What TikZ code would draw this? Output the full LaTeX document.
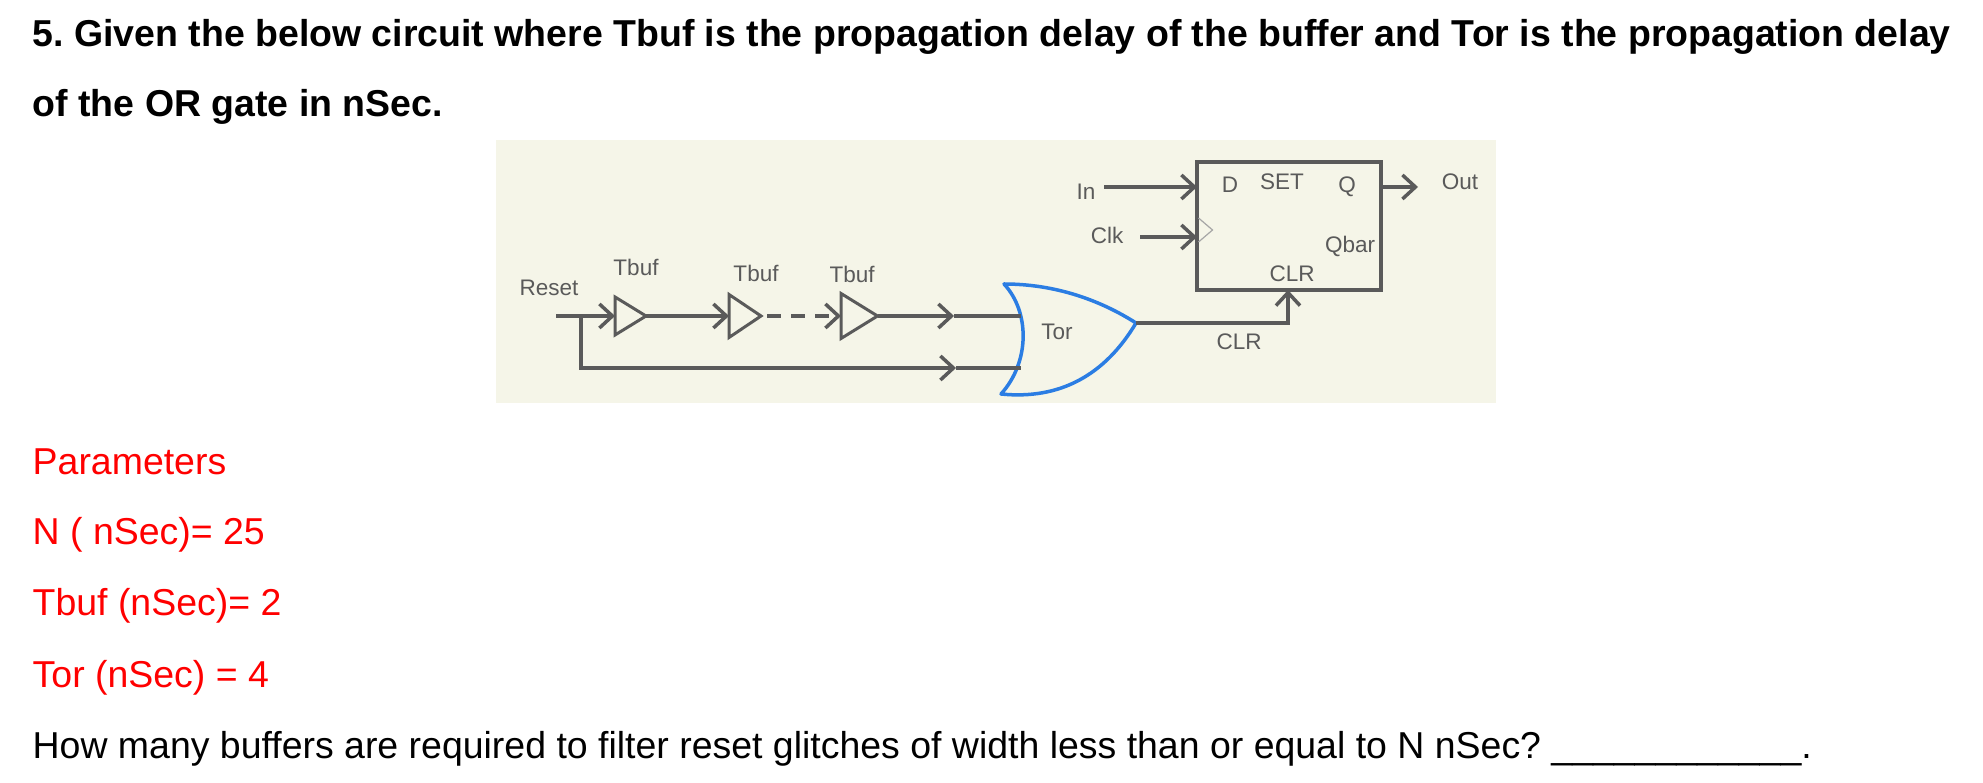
\documentclass[tikz,border=0pt]{standalone}
\usepackage{fontspec}
\setmainfont{Liberation Sans}
\usetikzlibrary{arrows.meta,shapes.geometric}
\definecolor{wirec}{HTML}{5A5A5A}
\definecolor{panelc}{HTML}{F5F5E8}
\definecolor{orc}{HTML}{2B7DE3}
\frenchspacing
\tikzset{
  x=0.01cm,y=-0.01cm,
  wire/.style={draw=wirec,line width=0.035cm},
  arrowed/.style={wire,-{Straight Barb[length=0.13cm,width=0.24cm,line width=0.035cm]}},
  lab/.style={text=wirec,inner sep=0pt,font=\fontsize{6.4pt}{7.5pt}\selectfont},
  headtext/.style={anchor=base west,inner sep=0pt,font=\fontsize{10.65pt}{12pt}\selectfont\bfseries},
  bodytext/.style={anchor=base west,inner sep=0pt,font=\fontsize{10.65pt}{12pt}\selectfont},
  redtext/.style={bodytext,text=red},
  bufferbox/.style={shape=isosceles triangle,isosceles triangle stretches,draw=wirec,line width=0.03cm,inner sep=0pt,outer sep=0pt,anchor=lower side},
}
\begin{document}
\begin{tikzpicture}
\useasboundingbox[fill=white] (0,0) rectangle (1983,783);
\fill[panelc] (496,140) rectangle (1496,403);

% question text
\node[headtext] (h1) at (32,47) {5. Given the below circuit where Tbuf is the propagation delay of the buffer and Tor is the propagation delay};
\node[headtext] (h2) at (32,117) {of the OR gate in nSec.};
\node[redtext] (p0) at (32,475) {Parameters};
\node[redtext] (p1) at (32,545) {N ( nSec)= 25};
\node[redtext] (p2) at (32,616) {Tbuf (nSec)= 2};
\node[redtext] (p3) at (32,687) {Tor (nSec) = 4};
\node[bodytext] (q) at (32,758) {How many buffers are required to filter reset glitches of width less than or equal to N nSec? \_\_\_\_\_\_\_\_\_\_\_\_.};

% buffers
\node[bufferbox,minimum width=0.38cm,minimum height=0.31cm] (b1) at (615,316) {};
\node[bufferbox,minimum width=0.43cm,minimum height=0.32cm] (b2) at (729,316) {};
\node[bufferbox,minimum width=0.45cm,minimum height=0.365cm] (b3) at (841,316) {};

% flip-flop
\node[draw=wirec,line width=0.04cm,minimum width=1.84cm,minimum height=1.27cm,inner sep=0pt,outer sep=0pt] (ff) at (1289,226) {};
\coordinate (ckt) at (1198.5,218);
\coordinate (ckm) at (1212.5,230);
\coordinate (ckb) at (1198.5,242);
\draw[draw=gray!70,line width=0.012cm] (ckt) -- (ckm) -- (ckb);

% OR gate
\coordinate (ortl) at (1004,284);
\coordinate (orbl) at (1001,394);
\coordinate (ortip) at (1136,323);
\coordinate (orin1) at (1021,316);
\coordinate (orin2) at (1021,368);
\draw[draw=orc,line width=0.035cm,line join=round,fill=panelc]
  (ortl) .. controls (1030,312) and (1030,362) .. (orbl)
  .. controls (1060,400) and (1105,375) .. (ortip)
  .. controls (1100,300) and (1055,284) .. (ortl) -- cycle;

% connectors
\coordinate (rst) at (556,316);
\coordinate (junc) at (581,316);
\coordinate (jdown) at (581,368);
\coordinate (a3) at (954,316);
\coordinate (a4) at (956,368);
\coordinate (ininp) at (1104,187);
\coordinate (clkin) at (1140,237);
\coordinate (clrcorner) at (1288,323);
\coordinate (ffin) at (1197,187);
\coordinate (ffck) at (1197,237);
\coordinate (ffclr) at (1288,290);
\coordinate (qs) at (1382,187);
\coordinate (qe) at (1418,187);

\draw[arrowed] (rst) -- (b1.lower side);
\draw[arrowed] (b1.apex) -- (b2.lower side);
\draw[arrowed,dash pattern=on 0.14cm off 0.1cm,shorten <=0.06cm] (b2.apex) -- (b3.lower side);
\draw[arrowed] (b3.apex) -- (a3);
\draw[wire] (a3) -- (orin1);
\draw[arrowed] (junc) -- (jdown) -- (a4);
\draw[wire] (a4) -- (orin2);
\draw[arrowed] (ortip) -- (clrcorner) -- (ffclr);
\draw[arrowed] (ininp) -- (ffin);
\draw[arrowed] (clkin) -- (ffck);
\draw[arrowed] (qs) -- (qe);

% labels
\node[lab] (lreset) at (549,288) {Reset};
\node[lab] (lb1) at (636,267) {Tbuf};
\node[lab] (lb2) at (756,273) {Tbuf};
\node[lab] (lb3) at (852,274) {Tbuf};
\node[lab] (ltor) at (1057,332) {Tor};
\node[lab] (lclr) at (1239,342) {CLR};
\node[lab] (lin) at (1086,192) {In};
\node[lab] (lclk) at (1107,235) {Clk};
\node[lab] (ld) at (1230,185) {D};
\node[lab] (lset) at (1282,182) {SET};
\node[lab] (lq) at (1347,187) {Q};
\node[lab] (lqbar) at (1350,246) {Qbar};
\node[lab] (lclr2) at (1292,274) {CLR};
\node[lab] (lout) at (1460,182) {Out};
\end{tikzpicture}
\end{document}
